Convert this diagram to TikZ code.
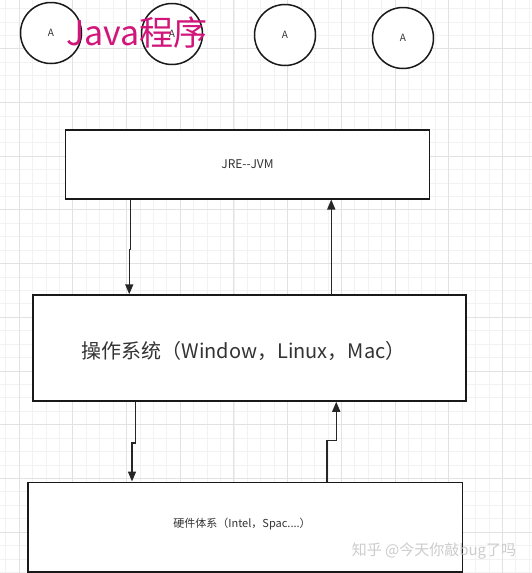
\documentclass[tikz,border=0pt]{standalone}
\usepackage{fontspec}
\setmainfont{Noto Sans CJK SC}
\usetikzlibrary{arrows.meta}

\definecolor{gridminor}{HTML}{F2F2F2}
\definecolor{gridmajor}{HTML}{E2E2E2}
\definecolor{javapink}{HTML}{D1157A}
\definecolor{txtgray}{HTML}{333333}

\begin{document}
\begin{tikzpicture}[x=1pt,y=-1pt,
    layer/.style={draw=black!90,line width=1.5pt,fill=white,text=txtgray,inner sep=0pt},
    circ/.style={circle,draw=black!90,line width=1.5pt,fill=white,minimum size=61pt,
      inner sep=0pt,font=\fontsize{10}{10}\selectfont,text=txtgray},
    arr/.style={line width=1.5pt,draw=black!85,-{Triangle[length=10pt,width=8pt]}}]

  \useasboundingbox (0,0) rectangle (532,573);
  \fill[white] (0,0) rectangle (532,573);

  % grid
  \foreach \i in {-1,...,39}
    \draw[gridminor,line width=0.6pt] (5.6+13.425*\i,0) -- ++(0,573);
  \foreach \i in {0,...,43}
    \draw[gridminor,line width=0.6pt] (0,8.4+13.425*\i) -- ++(532,0);
  \foreach \i in {0,...,9}
    \draw[gridmajor,line width=0.8pt] (19+53.7*\i,0) -- ++(0,573);
  \foreach \i in {1,...,11}
    \draw[gridmajor,line width=0.8pt] (0,-5+53.7*\i) -- ++(532,0);

  \node[circ] (a1) at (51,33) {A};
  \node[circ] (a2) at (172,34) {A};
  \node[circ] (a3) at (285,35) {A};
  \node[circ] (a4) at (403,38) {A};

  \node[text=javapink,font=\fontsize{34}{34}\selectfont,inner sep=0pt] (java) at (137,33) {Java程序};

  \node[layer,minimum width=364pt,minimum height=68.7pt,font=\fontsize{12}{12}\selectfont]
    (jre) at (247.5,164.4) {JRE-\kern0pt-JVM};
  \node[layer,minimum width=433pt,minimum height=106pt] (os) at (249.5,348) {};
  \node[text=txtgray,font=\fontsize{20}{20}\selectfont,inner sep=0pt] (ostxt) at (243.5,351)
    {操作系统（Window，Linux，Mac）};
  \node[layer,minimum width=434.5pt,minimum height=89.5pt] (hw) at (245,527) {};
  \node[text=txtgray,font=\fontsize{11}{11}\selectfont,inner sep=0pt] (hwtxt) at (242,524)
    {硬件体系（Intel，Spac....）};

  % jre <-> os
  \draw[arr] ([xshift=65.5]jre.south west) -- ++(0,50) -| ([xshift=97]os.north west);
  \draw[arr] ([xshift=299]os.north west) -- ([xshift=266.5]jre.south west);

  % os <-> hw
  \draw[arr] ([xshift=103]os.south west) -- ++(0,41) -| ([xshift=105]hw.north west);
  \draw[arr] ([xshift=300]hw.north west) -- ++(0,-41) -| ([xshift=304]os.south west);

  \node[text=black!20,font=\fontsize{15}{15}\selectfont,inner sep=0pt] (mark) at (434,551)
    {知乎 @今天你敲bug了吗};

\end{tikzpicture}
\end{document}
